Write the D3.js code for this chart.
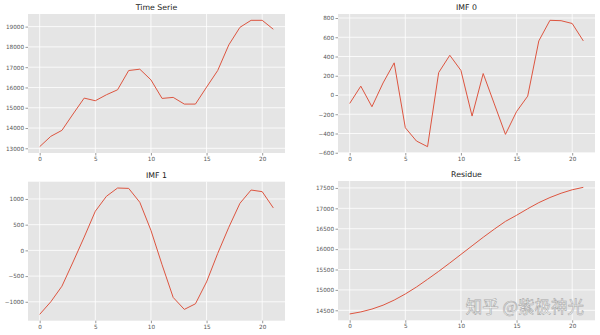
<!DOCTYPE html>
<html>
<head>
<meta charset="utf-8">
<script src="https://cdn.jsdelivr.net/npm/d3@7"></script>
<style>
  html, body { margin: 0; padding: 0; background: #fff; }
  svg { display: block; }
</style>
</head>
<body>
<svg id="chart" width="600" height="335"></svg>
<script>
// ---- data ----
const xIndex = d3.range(22);
const timeSerie = [13080, 13590, 13885, 14690, 15475, 15345, 15640, 15885, 16835, 16900, 16375,
                   15460, 15510, 15180, 15180, 16015, 16835, 18100, 18965, 19310, 19310, 18870];
const imf0 = [-88, 92, -122, 125, 334, -340, -478, -537, 233, 413, 255,
              -219, 223, -93, -409, -172, -12, 562, 776, 772, 743, 562];
const imf1 = [-1245, -1000, -697, -226, 258, 761, 1052, 1213, 1206, 935, 390,
              -280, -916, -1148, -1039, -613, -60, 450, 916, 1174, 1142, 826];
const residue = [14410, 14460, 14530, 14625, 14750, 14900, 15070, 15260, 15455, 15660, 15870,
                 16080, 16290, 16490, 16680, 16830, 16990, 17140, 17265, 17370, 17455, 17515];
const titles = ["Time Serie", "IMF 0", "IMF 1", "Residue"];
const xTicks = [0, 5, 10, 15, 20];
const yTicks0 = [13000, 14000, 15000, 16000, 17000, 18000, 19000];
const yTicks1 = [-600, -400, -200, 0, 200, 400, 600, 800];
const yTicks2 = [-1000, -500, 0, 500, 1000];
const yTicks3 = [14500, 15000, 15500, 16000, 16500, 17000, 17500];
const watermark = "知乎 @紫极神光";

const series = [timeSerie, imf0, imf1, residue];
const yTicksAll = [yTicks0, yTicks1, yTicks2, yTicks3];

const panels = [
  {x: 28,  y: 14,    w: 257, h: 139},
  {x: 338, y: 14,    w: 257, h: 139},
  {x: 28,  y: 181.7, w: 257, h: 139},
  {x: 338, y: 181,   w: 257, h: 139.3}
];

const svg = d3.select("#chart");
const fontFam = "'DejaVu Sans', sans-serif";

panels.forEach((p, k) => {
  const data = series[k];
  const g = svg.append("g").attr("transform", `translate(${p.x},${p.y})`);
  const x = d3.scaleLinear().domain([-1.05, 22.05]).range([0, p.w]);
  const [mn, mx] = d3.extent(data);
  const pad = (mx - mn) * 0.05;
  const y = d3.scaleLinear().domain([mn - pad, mx + pad]).range([p.h, 0]);

  g.append("rect").attr("width", p.w).attr("height", p.h).attr("fill", "#E5E5E5");

  // grid
  g.selectAll(".gx").data(xTicks).join("line")
    .attr("x1", d => x(d)).attr("x2", d => x(d)).attr("y1", 0).attr("y2", p.h)
    .attr("stroke", "#fff").attr("stroke-width", 0.8);
  g.selectAll(".gy").data(yTicksAll[k]).join("line")
    .attr("y1", d => y(d)).attr("y2", d => y(d)).attr("x1", 0).attr("x2", p.w)
    .attr("stroke", "#fff").attr("stroke-width", 0.8);

  // axes
  const ax = g.append("g").attr("transform", `translate(0,${p.h})`)
    .call(d3.axisBottom(x).tickValues(xTicks).tickSize(2.5).tickPadding(1.5).tickFormat(d3.format("d")));
  const ay = g.append("g")
    .call(d3.axisLeft(y).tickValues(yTicksAll[k]).tickSize(2.5).tickPadding(1.5).tickFormat(d3.format("d")));
  [ax, ay].forEach(a => {
    a.select(".domain").remove();
    a.selectAll(".tick line").attr("stroke", "#555").attr("stroke-width", 0.6);
    a.selectAll(".tick text").attr("fill", "#555").style("font-family", fontFam).style("font-size", "5.7px");
  });

  // line
  g.append("path").datum(data)
    .attr("fill", "none").attr("stroke", "#DD5540").attr("stroke-width", 1)
    .attr("stroke-linejoin", "round")
    .attr("d", d3.line().x((d, i) => x(xIndex[i])).y(d => y(d)));

  // title
  svg.append("text").attr("x", p.x + p.w / 2).attr("y", p.y - 4)
    .attr("text-anchor", "middle").attr("fill", "#222")
    .style("font-family", fontFam).style("font-size", "7.8px").text(titles[k]);
});

// watermark
svg.append("text").attr("x", 584).attr("y", 313).attr("text-anchor", "end")
  .attr("fill", "#fff").attr("fill-opacity", 0.95)
  .attr("stroke", "#a8a8a8").attr("stroke-width", 0.6)
  .style("font-family", "'Noto Sans CJK SC', sans-serif").style("font-size", "16.5px")
  .text(watermark);
</script>
</body>
</html>
